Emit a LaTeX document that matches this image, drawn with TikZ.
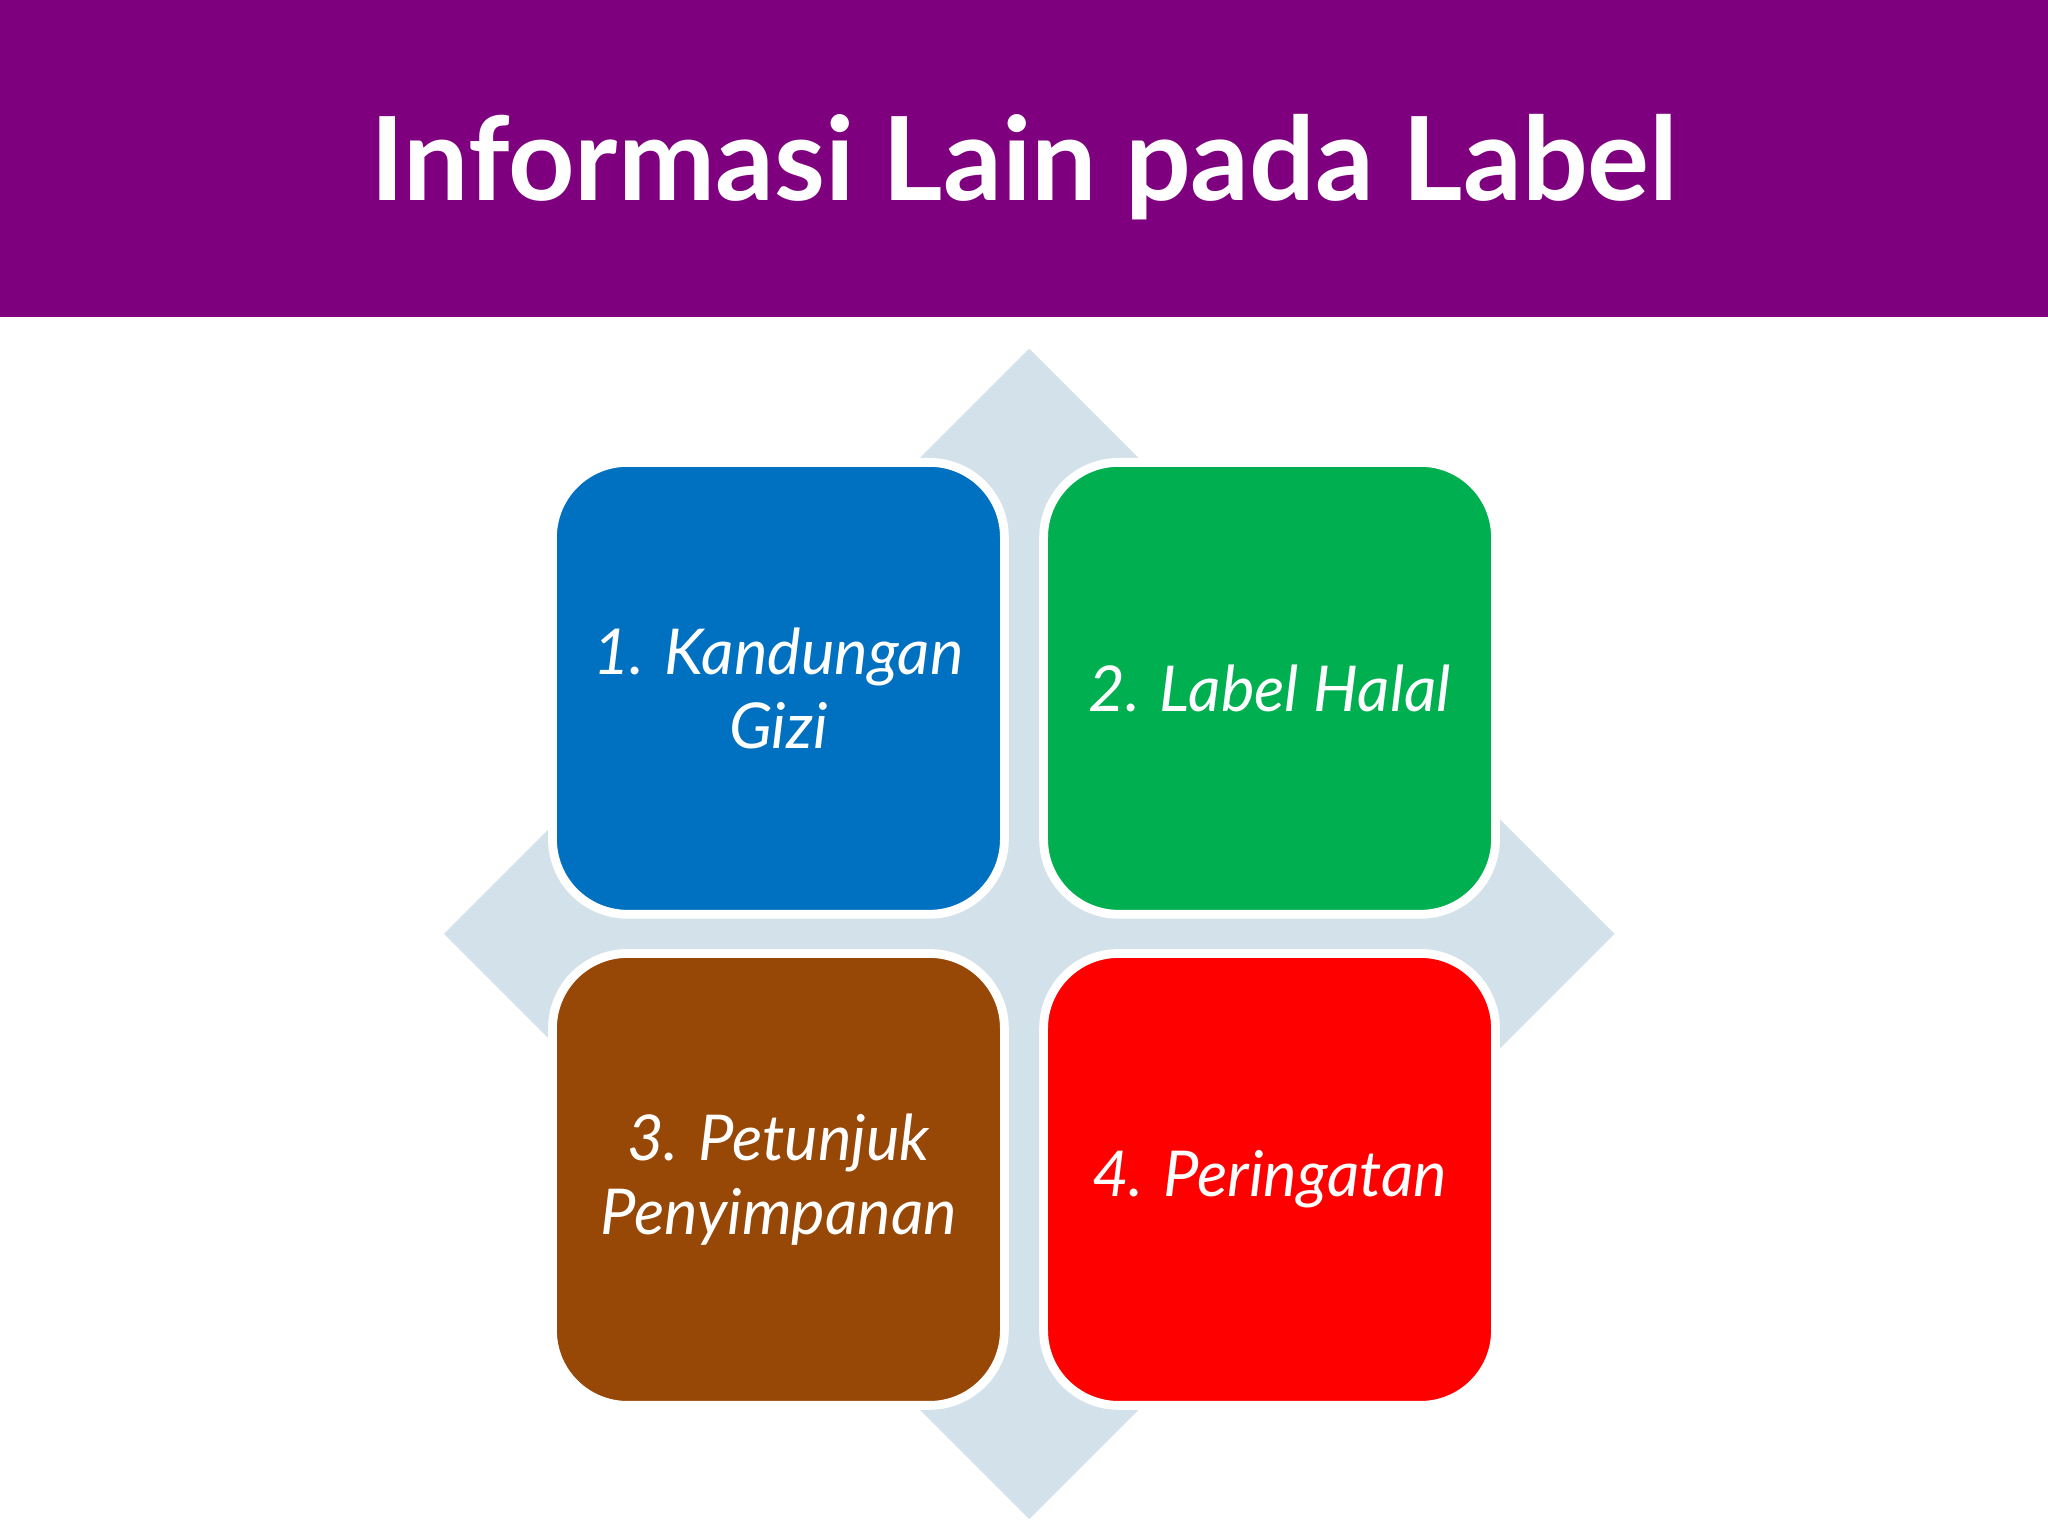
\documentclass[tikz,border=0pt]{standalone}
\usepackage{fontspec}
\setmainfont{Lato}
\definecolor{cpurple}{RGB}{127,0,127}
\definecolor{cdiam}{RGB}{211,226,234}
\definecolor{cblue}{RGB}{0,112,192}
\definecolor{cgreen}{RGB}{0,176,80}
\definecolor{cbrown}{RGB}{151,71,6}
\definecolor{cred}{RGB}{255,0,0}
\begin{document}
\begin{tikzpicture}[x=0.013061cm,y=-0.013061cm,
  tile/.style={draw=white,line width=2.5pt,rounded corners=0.75cm},
  lbl/.style={text=white,font=\itshape\fontsize{18}{21}\selectfont,align=center},
  ]
\useasboundingbox (0,0) rectangle (1568,1176);
\fill[white] (0,0) rectangle (1568,1176);
\fill[cpurple] (0,0) rectangle (1568,243);
\node[font=\bfseries\fontsize{33}{40}\selectfont,text=white] (title) at (784,128) {Informasi Lain pada Label};
\fill[cdiam] (788,267) -- (1236,715) -- (788,1163) -- (340,715) -- cycle;
\path[tile,fill=cblue] (423,354) rectangle (769,700);
\node[lbl] (t1) at (596,527) {1. Kandungan\\Gizi};
\path[tile,fill=cgreen] (799,354) rectangle (1145,700);
\node[lbl] (t2) at (972,527) {2. Label Halal};
\path[tile,fill=cbrown] (423,730) rectangle (769,1076);
\node[lbl] (t3) at (596,903) {3. Petunjuk\\Penyimpanan};
\path[tile,fill=cred] (799,730) rectangle (1145,1076);
\node[lbl] (t4) at (972,903) {4. Peringatan};
\end{tikzpicture}
\end{document}
